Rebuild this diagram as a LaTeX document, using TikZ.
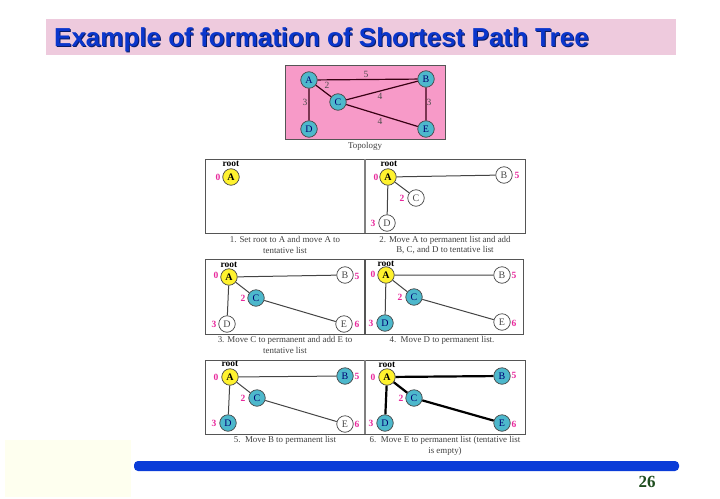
\documentclass[tikz,border=0pt]{standalone}
\usepackage{fontspec}
\setmainfont{Liberation Serif}
\newfontfamily\titlefont{Liberation Sans}
\definecolor{titlepink}{HTML}{EECADD}
\definecolor{topopink}{HTML}{F79AC8}
\definecolor{nodeteal}{HTML}{4DB8CC}
\definecolor{rootyellow}{HTML}{FFF22E}
\definecolor{distpink}{HTML}{E8289C}
\definecolor{titleblue}{HTML}{0A36CC}
\definecolor{titleshade}{HTML}{0B1C66}
\definecolor{barblue}{HTML}{0A3CD8}
\definecolor{paleyellow}{HTML}{FEFFEF}
\definecolor{pagegreen}{HTML}{1E4D1E}
\definecolor{framegray}{HTML}{555555}
\definecolor{linegray}{HTML}{444444}
\tikzset{
  x=1pt,y=-1pt,
  vert/.style={circle,draw=linegray,line width=.7pt,minimum size=16.5pt,inner sep=0pt,font=\fontsize{10}{10}\selectfont,text=black!70},
  perm/.style={vert,fill=nodeteal,text=blue!45!black},
  tent/.style={vert,fill=white},
  rootv/.style={vert,fill=rootyellow,font=\fontsize{10}{10}\selectfont\bfseries,text=black},
  dist/.style={text=distpink,font=\fontsize{9.5}{9.5}\selectfont\bfseries,inner sep=0pt},
  rootlab/.style={font=\fontsize{9.5}{9.5}\selectfont\bfseries,inner sep=0pt},
  captext/.style={font=\fontsize{8.9}{10.3}\selectfont,text=black!75,align=center,inner sep=0pt},
  wlab/.style={font=\fontsize{9.5}{9.5}\selectfont,text=black!70,inner sep=0pt},
  panel/.style={draw=framegray,line width=.9pt},
  divider/.style={draw=gray,line width=1.3pt},
  linkline/.style={draw=linegray,line width=1pt},
  topoline/.style={draw=black!70!purple,line width=1.2pt},
  treeline/.style={draw=black,line width=2.2pt}
}
\begin{document}
\begin{tikzpicture}
\useasboundingbox (0,0) rectangle (720,498);
\fill[white] (0,0) rectangle (720,498);
% header
\fill[titlepink] (46,19) rectangle (676,55);
\node[anchor=base west,inner sep=0pt,text=titleshade,font=\titlefont\fontsize{26}{26}\selectfont\bfseries] at (55,47.6) {Example of formation of Shortest Path Tree};
\node[anchor=base west,inner sep=0pt,text=titleblue,font=\titlefont\fontsize{26}{26}\selectfont\bfseries] (title) at (54,46.6) {Example of formation of Shortest Path Tree};
% footer
\fill[paleyellow] (5,440) rectangle (131,497);
\fill[barblue,rounded corners=4pt] (134,461) rectangle (679,471);
\node[text=pagegreen,font=\fontsize{17}{17}\selectfont\bfseries,inner sep=0pt] (page) at (647,482) {26};
% topology
\fill[topopink] (285,65) rectangle (445,139);
\draw[framegray,line width=.8pt] (285,65) rectangle (445,139);
\node[perm] (tA) at (309,80) {A};
\node[perm] (tB) at (426,79) {B};
\node[perm] (tC) at (338,102) {C};
\node[perm] (tD) at (309,129) {D};
\node[perm] (tE) at (426,129) {E};
\draw[topoline] (tA)--(tB) (tA)--(tC) (tA)--(tD) (tC)--(tB) (tC)--(tE) (tB)--(tE);
\node[wlab] at (366,74) {5};
\node[wlab] at (327,85) {2};
\node[wlab] at (305,102) {3};
\node[wlab] at (380,96) {4};
\node[wlab] at (380,121) {4};
\node[wlab] at (429,102) {3};
\node[captext] at (365,146) {Topology};
% panel frames
\draw[panel] (205,159) rectangle (525,233);
\draw[divider] (365,159)--(365,233);
\draw[panel] (205,259) rectangle (523,334);
\draw[divider,draw=framegray] (365,259)--(365,334);
\draw[panel] (205,360) rectangle (525,434);
\draw[divider] (365,360)--(365,434);
% step 1
\node[rootlab] at (231,163.5) {root};
\node[rootv] (a1) at (231,177) {A};
\node[dist] at (218,177) {0};
\node[captext] at (285,245) {1. Set root to A and move A to\\tentative list};
% step 2
\node[rootlab] at (389,163.5) {root};
\node[rootv] (a2) at (388,177) {A};
\node[tent] (b2) at (504,175) {B};
\node[tent] (c2) at (416,198) {C};
\node[tent] (d2) at (387,223) {D};
\draw[linkline] (a2)--(b2) (a2)--(c2) (a2)--(d2);
\node[dist] at (376,177) {0};
\node[dist] at (517,175) {5};
\node[dist] at (402,198) {2};
\node[dist] at (373,223) {3};
\node[captext] at (445,245) {2. Move A to permanent list and add\\B, C, and D to tentative list};
% step 3
\node[rootlab] at (229,264.5) {root};
\node[rootv] (a3) at (229,277) {A};
\node[tent] (b3) at (345,275) {B};
\node[perm] (c3) at (256,298) {C};
\node[tent] (d3) at (227,324) {D};
\node[tent] (e3) at (344,324) {E};
\draw[linkline] (a3)--(b3) (a3)--(c3) (a3)--(d3) (c3)--(e3);
\node[dist] at (216,275) {0};
\node[dist] at (357,276) {5};
\node[dist] at (243,298) {2};
\node[dist] at (214,324) {3};
\node[dist] at (357,324) {6};
\node[captext] at (285,345) {3. Move C to permanent and add E to\\tentative list};
% step 4
\node[rootlab] at (386,263.5) {root};
\node[rootv] (a4) at (386,275) {A};
\node[tent] (b4) at (502,275) {B};
\node[perm] (c4) at (414,297) {C};
\node[perm] (d4) at (385,323) {D};
\node[tent] (e4) at (502,322) {E};
\draw[linkline] (a4)--(b4) (a4)--(c4) (a4)--(d4) (c4)--(e4);
\node[dist] at (373,274) {0};
\node[dist] at (514,275) {5};
\node[dist] at (400,297) {2};
\node[dist] at (371,323) {3};
\node[dist] at (514,323) {6};
\node[captext] at (442,340.5) {4.\ \ Move D to permanent list.};
% step 5
\node[rootlab] at (230,364) {root};
\node[rootv] (a5) at (230,377) {A};
\node[perm] (b5) at (345,376) {B};
\node[perm] (c5) at (257,398) {C};
\node[perm] (d5) at (228,423) {D};
\node[tent] (e5) at (345,424) {E};
\draw[linkline] (a5)--(b5) (a5)--(c5) (a5)--(d5) (c5)--(e5);
\node[dist] at (216,377) {0};
\node[dist] at (357,376) {5};
\node[dist] at (243,398) {2};
\node[dist] at (214,423) {3};
\node[dist] at (357,424) {6};
\node[captext] at (285,440.5) {5.\ \ Move B to permanent list};
% step 6
\node[rootlab] at (387,364.5) {root};
\node[rootv] (a6) at (387,377) {A};
\node[perm] (b6) at (502,376) {B};
\node[perm] (c6) at (414,398) {C};
\node[perm] (d6) at (385,423) {D};
\node[perm] (e6) at (502,423) {E};
\draw[treeline] (a6)--(b6) (a6)--(c6) (a6)--(d6) (c6)--(e6);
\node[dist] at (373,377) {0};
\node[dist] at (514,375) {5};
\node[dist] at (401,398) {2};
\node[dist] at (371,423) {3};
\node[dist] at (514,424) {6};
\node[captext] at (445,446) {6.\ \ Move E to permanent list (tentative list\\is empty)};
\end{tikzpicture}
\end{document}
